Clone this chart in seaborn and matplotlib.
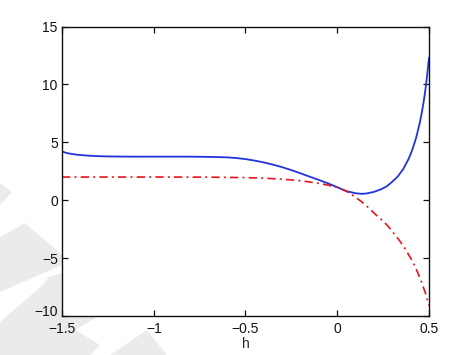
import matplotlib
matplotlib.use("Agg")
import matplotlib.pyplot as plt
import matplotlib.transforms as mtransforms
from matplotlib.patches import Polygon
import seaborn as sns
import pandas as pd

# Data
blue_x = [-1.5, -1.475, -1.45, -1.425, -1.4, -1.35, -1.3, -1.25, -1.2, -1.1, -1.0,
          -0.9, -0.8, -0.7, -0.6, -0.55, -0.5, -0.45, -0.4, -0.35, -0.3, -0.25,
          -0.2, -0.15, -0.1, -0.05, 0.0, 0.05, 0.1, 0.13, 0.16, 0.2, 0.24, 0.27,
          0.3, 0.33, 0.36, 0.39, 0.41, 0.43, 0.45, 0.46, 0.47, 0.48, 0.49, 0.5]
blue_y = [4.2, 4.08, 4.0, 3.94, 3.9, 3.84, 3.8, 3.78, 3.77, 3.76, 3.76,
          3.76, 3.76, 3.74, 3.7, 3.64, 3.55, 3.42, 3.26, 3.07, 2.85, 2.6,
          2.32, 2.03, 1.75, 1.45, 1.12, 0.78, 0.6, 0.55, 0.58, 0.72, 0.95, 1.2,
          1.6, 2.05, 2.7, 3.6, 4.4, 5.4, 6.7, 7.5, 8.4, 9.5, 10.8, 12.3]
red_x = [-1.5, -1.0, -0.7, -0.5, -0.4, -0.3, -0.2, -0.15, -0.1, -0.05, 0.0, 0.04,
         0.07, 0.1, 0.13, 0.16, 0.19, 0.22, 0.25, 0.28, 0.31, 0.34, 0.37, 0.4,
         0.42, 0.44, 0.46, 0.48, 0.5]
red_y = [2.0, 2.0, 1.99, 1.95, 1.9, 1.82, 1.68, 1.57, 1.45, 1.3, 1.1, 0.85,
         0.58, 0.25, -0.1, -0.5, -0.95, -1.4, -1.8, -2.3, -2.9, -3.5, -4.2, -5.0,
         -5.6, -6.3, -7.1, -8.0, -9.1]
x_ticks = [-1.5, -1, -0.5, 0, 0.5]
x_tick_labels = ["\u22121.5", "\u22121", "\u22120.5", "0", "0.5"]
y_ticks = [-10, -5, 0, 5, 10, 15]
y_tick_labels = ["\u221210", "\u22125", "0", "5", "10", "15"]
x_label = "h"

sns.set_style("ticks")
plt.rcParams["font.family"] = ["Liberation Sans", "DejaVu Sans"]

W, H = 474, 355
fig = plt.figure(figsize=(W / 100, H / 100), dpi=100)
fig.patch.set_facecolor("white")

# light grey watermark shapes in the background (pixel coords, y from top)
shapes = [
    [(0, 183), (12, 192), (0, 205)],
    [(0, 237), (25, 223), (70, 262), (62, 265), (0, 292)],
    [(0, 322), (45, 283), (48, 277), (63, 273), (122, 302), (75, 330),
     (100, 345), (90, 355), (0, 355)],
    [(110, 355), (147, 330), (167, 355)],
]
for s in shapes:
    pts = [(x / W, 1 - y / H) for x, y in s]
    fig.patches.append(Polygon(pts, closed=True, transform=fig.transFigure,
                               facecolor="#ebebeb", edgecolor="none", zorder=-5))

ax = fig.add_axes([62 / W, 1 - 316 / H, (429 - 62) / W, (316 - 26.5) / H])
ax.set_zorder(2)
ax.set_facecolor("white")

df_b = pd.DataFrame({"h": blue_x, "v": blue_y})
df_r = pd.DataFrame({"h": red_x, "v": red_y})
sns.lineplot(data=df_b, x="h", y="v", ax=ax, color="#2233dd", lw=1.3,
             estimator=None, sort=False)
sns.lineplot(data=df_r, x="h", y="v", ax=ax, color="#e8141c", lw=1.2,
             estimator=None, sort=False)
ax.lines[-1].set_dashes([5, 2.5, 1.2, 2.5])

ax.set_xlim(-1.5, 0.5)
ax.set_ylim(-10, 15)
ax.set_xticks(x_ticks)
ax.set_xticklabels(x_tick_labels)
ax.set_yticks(y_ticks)
ax.set_yticklabels(y_tick_labels)
ax.set_xlabel(x_label, fontsize=10, labelpad=1)
ax.set_ylabel("")
ax.tick_params(direction="in", length=4, width=0.9, top=True, right=True,
               labelsize=10, colors="#111111", pad=3)
ax.tick_params(axis="x", pad=4)
for sp in ax.spines.values():
    sp.set_visible(True)
    sp.set_linewidth(1.0)
    sp.set_color("#111111")

# nudge the bottom y label up slightly so it does not collide with the x label
lab = ax.get_yticklabels()[0]
lab.set_transform(lab.get_transform() +
                  mtransforms.ScaledTranslation(0, 4 / 72, fig.dpi_scale_trans))

fig.savefig("out.png", dpi=100)
